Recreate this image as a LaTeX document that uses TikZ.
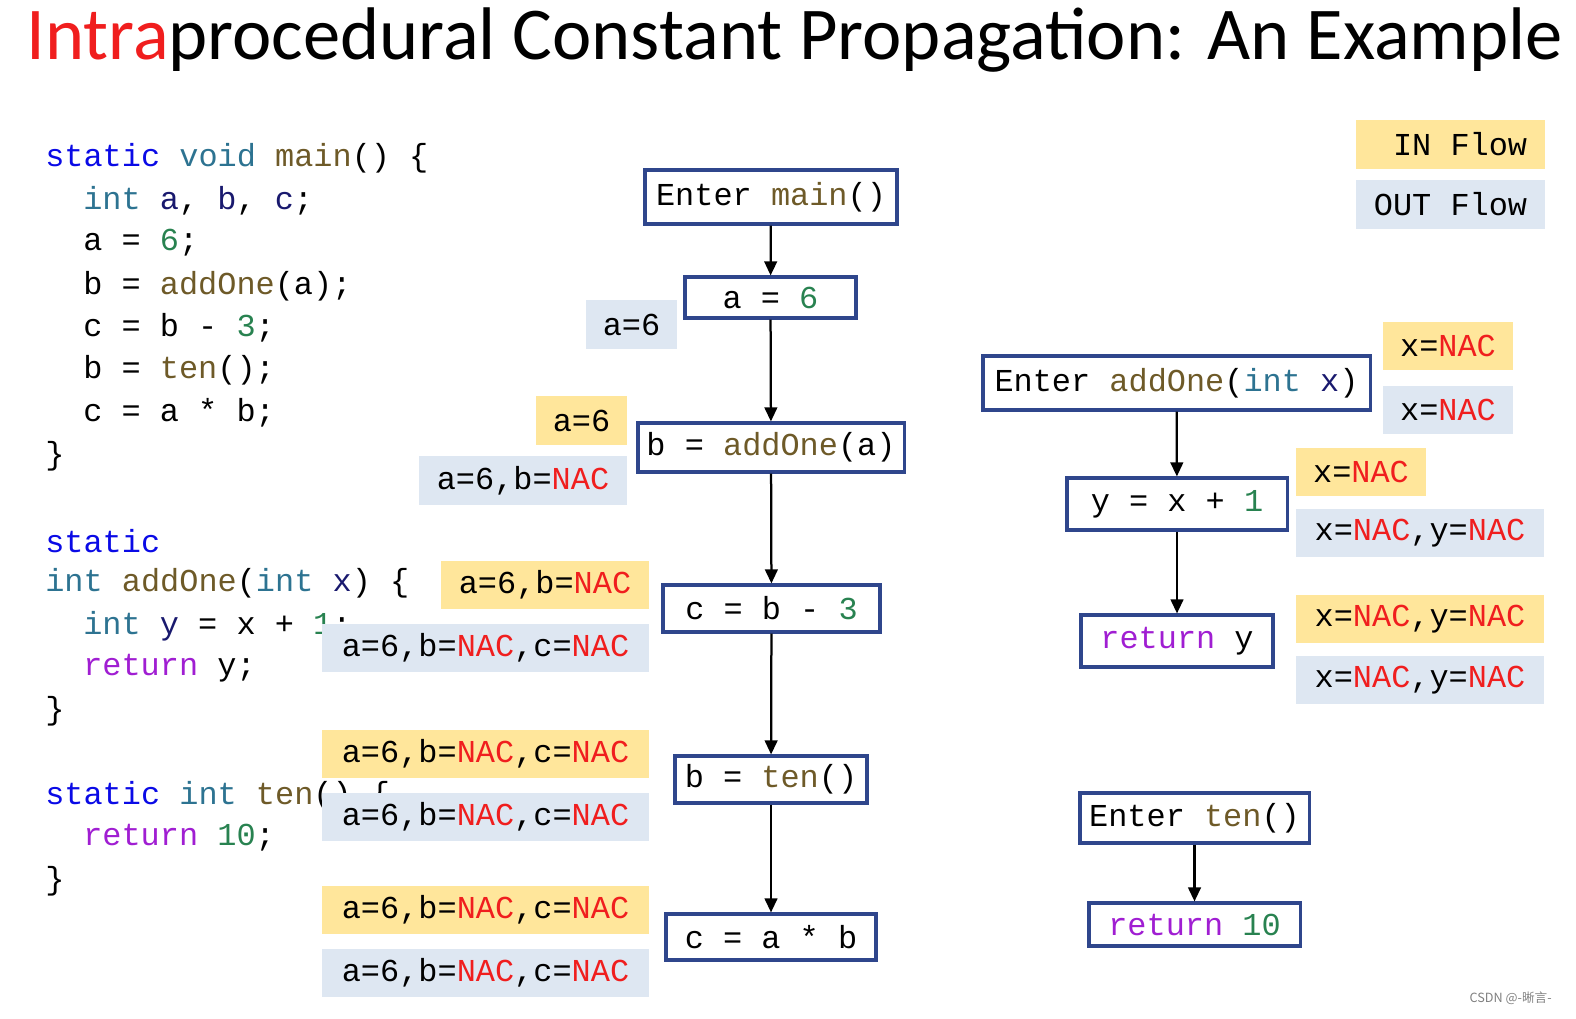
\documentclass[tikz,border=0pt]{standalone}
\usepackage{fontspec}
\setmainfont{Carlito}
\setmonofont{Liberation Mono}
\newfontfamily\cjkf{Noto Sans CJK SC}
\usetikzlibrary{arrows.meta}
\definecolor{kwblue}{RGB}{10,10,230}
\definecolor{tyteal}{RGB}{45,115,145}
\definecolor{fnbrown}{RGB}{110,90,40}
\definecolor{nmgreen}{RGB}{40,130,80}
\definecolor{rtpurple}{RGB}{160,30,210}
\definecolor{vrblue}{RGB}{25,25,110}
\definecolor{nacred}{RGB}{240,30,30}
\definecolor{yelfill}{RGB}{255,230,155}
\definecolor{blufill}{RGB}{222,231,242}
\definecolor{boxblue}{RGB}{47,70,140}
\newcommand\Kb[1]{\textcolor{kwblue}{#1}}
\newcommand\Ty[1]{\textcolor{tyteal}{#1}}
\newcommand\Fn[1]{\textcolor{fnbrown}{#1}}
\newcommand\Nm[1]{\textcolor{nmgreen}{#1}}
\newcommand\Rt[1]{\textcolor{rtpurple}{#1}}
\newcommand\Vr[1]{\textcolor{vrblue}{#1}}
\newcommand\NAC{\textcolor{nacred}{NAC}}
\tikzset{
 code/.style={anchor=west,inner sep=0pt,font=\ttfamily\fontsize{22.7}{26}\selectfont},
 yel/.style={fill=yelfill,inner sep=0pt,minimum height=1.2cm,font=\ttfamily\fontsize{22.7}{26}\selectfont},
 blu/.style={fill=blufill,inner sep=0pt,minimum height=1.2cm,font=\ttfamily\fontsize{22.7}{26}\selectfont},
 cfg/.style={draw=boxblue,line width=2.2pt,inner sep=0pt,font=\ttfamily\fontsize{22.7}{26}\selectfont},
 flow/.style={-{Triangle[length=10pt,width=9pt]},line width=1.6pt,black}
}
\begin{document}
\begin{tikzpicture}[x=0.025cm,y=-0.025cm]
\useasboundingbox (0,0) rectangle (1576,1018);
\node[anchor=west,inner sep=0pt,font=\fontsize{53}{60}\selectfont] (title) at (26,40) {\textcolor{nacred}{Intra}procedural Constant Propagation: An Example};
% code
\node[code] (l1) at (45,158) {\Kb{static} \Ty{void} \Fn{main}() \{};
\node[code] (l2) at (83,201) {\Ty{int} \Vr{a}, \Vr{b}, \Vr{c};};
\node[code] (l3) at (83,243) {a = \Nm{6};};
\node[code] (l4) at (83,286) {b = \Fn{addOne}(a);};
\node[code] (l5) at (83,328) {c = b - \Nm{3};};
\node[code] (l6) at (83,370) {b = \Fn{ten}();};
\node[code] (l7) at (83,413) {c = a * b;};
\node[code] (l8) at (45,456) {\}};
\node[code] (l9) at (45,541) {\Kb{static}};
\node[code] (l10) at (45,583) {\Ty{int} \Fn{addOne}(\Ty{int} \Vr{x}) \{};
\node[code] (l11) at (83,626) {\Ty{int} \Vr{y} = x + \Nm{1};};
\node[code] (l12) at (83,668) {\Rt{return} y;};
\node[code] (l13) at (45,711) {\}};
\node[code] (l14) at (45,796) {\Kb{static} \Ty{int} \Fn{ten}() \{};
\node[code] (l15) at (83,838) {\Rt{return} \Nm{10};};
\node[code] (l16) at (45,881) {\}};
% legend
\node[yel,minimum width=4.725cm,minimum height=1.225cm] (inleg) at (1450.5,144.5) {\ IN Flow};
\node[blu,minimum width=4.725cm,minimum height=1.225cm] (outleg) at (1450.5,204.5) {OUT Flow};
% main flows
\node[blu,minimum width=2.275cm,minimum height=1.225cm] (f1o) at (631.5,324.5) {a=6};
\node[yel,minimum width=2.275cm,minimum height=1.225cm] (f2i) at (581.5,420.5) {a=6};
\node[blu,minimum width=5.2cm,minimum height=1.225cm] (f2o) at (523,480.5) {a=6,b=\NAC};
\node[yel,minimum width=5.2cm] (f3i) at (545,585) {a=6,b=\NAC};
\node[blu,minimum width=8.175cm] (f3o) at (485.5,648) {a=6,b=\NAC,c=\NAC};
\node[yel,minimum width=8.175cm] (f4i) at (485.5,754) {a=6,b=\NAC,c=\NAC};
\node[blu,minimum width=8.175cm] (f4o) at (485.5,816.5) {a=6,b=\NAC,c=\NAC};
\node[yel,minimum width=8.175cm] (f5i) at (485.5,910) {a=6,b=\NAC,c=\NAC};
\node[blu,minimum width=8.175cm] (f5o) at (485.5,973) {a=6,b=\NAC,c=\NAC};
% addOne flows
\node[yel,minimum width=3.25cm] (g1i) at (1448,346) {x=\NAC};
\node[blu,minimum width=3.25cm] (g1o) at (1448,410) {x=\NAC};
\node[yel,minimum width=3.25cm] (g2i) at (1361,472) {x=\NAC};
\node[blu,minimum width=6.2cm] (g2o) at (1420,533) {x=\NAC,y=\NAC};
\node[yel,minimum width=6.2cm] (g3i) at (1420,619) {x=\NAC,y=\NAC};
\node[blu,minimum width=6.2cm] (g3o) at (1420,680) {x=\NAC,y=\NAC};
% CFG main
\node[cfg,minimum width=6.3cm,minimum height=1.35cm] (m0) at (771,197) {Enter \Fn{main}()};
\node[cfg,minimum width=4.275cm,minimum height=1.025cm] (m1) at (770.5,297.5) {a = \Nm{6}};
\node[cfg,minimum width=6.65cm,minimum height=1.225cm] (m2) at (771,447.5) {b = \Fn{addOne}(a)};
\node[cfg,minimum width=5.425cm,minimum height=1.175cm] (m3) at (771.5,608.5) {c = b - \Nm{3}};
\node[cfg,minimum width=4.8cm,minimum height=1.175cm] (m4) at (771,779.5) {b = \Fn{ten}()};
\node[cfg,minimum width=5.25cm,minimum height=1.15cm] (m5) at (771,937) {c = a * b};
\draw[flow] (m0) -- (m1);
\draw[flow] (m1) -- (m2);
\draw[flow] (m2) -- (m3);
\draw[flow] (m3) -- (m4);
\draw[flow] (m4) -- (m5);
% CFG addOne
\node[cfg,minimum width=9.675cm,minimum height=1.35cm] (a0) at (1176.5,383) {Enter \Fn{addOne}(\Ty{int} \Vr{x})};
\node[cfg,minimum width=5.5cm,minimum height=1.3cm] (a1) at (1177,504) {y = x + \Nm{1}};
\node[cfg,minimum width=4.8cm,minimum height=1.3cm] (a2) at (1177,641) {\Rt{return} y};
\draw[flow] (a0) -- (a1);
\draw[flow] (a1) -- (a2);
% CFG ten
\node[cfg,minimum width=5.725cm,minimum height=1.25cm] (t0) at (1194.5,818) {Enter \Fn{ten}()};
\node[cfg,minimum width=5.275cm,minimum height=1.075cm] (t1) at (1194.5,924.5) {\Rt{return} \Nm{10}};
\draw[flow] (t0) -- (t1);
\node[anchor=east,inner sep=0pt,text=gray,font=\cjkf\fontsize{9}{10}\selectfont] (wm) at (1552,998) {CSDN @-晰言-};
\end{tikzpicture}
\end{document}
